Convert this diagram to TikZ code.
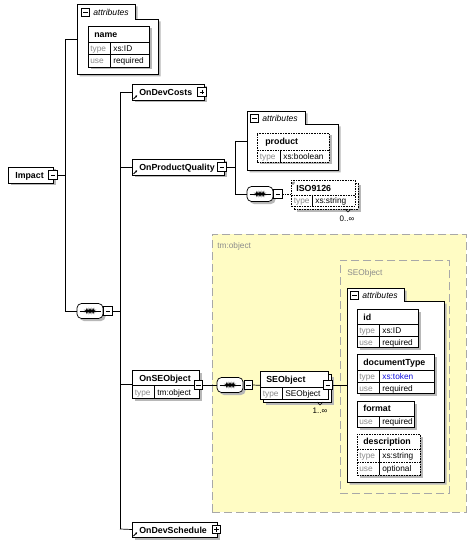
\documentclass[tikz,border=0pt]{standalone}
\usepackage{fontspec}
\setmainfont{Liberation Sans}
\usetikzlibrary{shadows,arrows.meta}
\definecolor{yel}{HTML}{FFFCC4}
\definecolor{dgray}{HTML}{A8A8A8}
\definecolor{lbl}{HTML}{8C8C8C}
\definecolor{tok}{HTML}{1010E0}
\begin{document}
\begin{tikzpicture}[x=1pt,y=-1pt,line width=0.7pt,
  shd/.style={drop shadow={shadow xshift=2.5pt,shadow yshift=-2.5pt,fill=black!28,opacity=1}},
  box/.style={draw,fill=white,rectangle,anchor=north west,inner sep=0,outer sep=0,shd},
  dbox/.style={box,dash pattern=on 1.6pt off 1pt},
  nm/.style={inner sep=0,anchor=base west,font=\fontsize{8.8}{10}\selectfont\bfseries},
  lab/.style={inner sep=0,anchor=base west,font=\fontsize{8.3}{10}\selectfont,text=lbl},
  val/.style={inner sep=0,anchor=base west,font=\fontsize{8.3}{10}\selectfont},
  att/.style={inner sep=0,anchor=base west,font=\fontsize{8.6}{10}\selectfont\itshape},
  pm/.style={draw,fill=white,minimum size=8.5pt,inner sep=0,outer sep=0},
  minus/.style={pm,path picture={\draw[black,line width=0.8pt] ([xshift=1.8pt]path picture bounding box.west) -- ([xshift=-1.8pt]path picture bounding box.east);}},
  plus/.style={pm,path picture={\draw[black,line width=0.8pt] ([xshift=1.8pt]path picture bounding box.west) -- ([xshift=-1.8pt]path picture bounding box.east);\draw[black,line width=0.8pt] ([yshift=-1.8pt]path picture bounding box.north) -- ([yshift=1.8pt]path picture bounding box.south);}},
  seq/.style={draw,fill=white,rounded corners=4.5pt,minimum width=26pt,minimum height=15pt,inner sep=0,outer sep=0,shd,
    path picture={\draw[black] ([xshift=2.5pt]path picture bounding box.west) -- ([xshift=-2.5pt]path picture bounding box.east);
      \foreach \dd in {-2.9,0,2.9} \fill[black] ([xshift=\dd pt]path picture bounding box.center) +(-1.1pt,-1.1pt) rectangle +(1.1pt,1.1pt);}},
  refarrow/.style={-{Stealth[length=2.2pt,width=2.2pt]},line width=0.8pt},
  mult/.style={inner sep=0,font=\fontsize{8}{10}\selectfont}
]
\useasboundingbox (0,0) rectangle (474,545);
\fill[white] (0,0) rectangle (474,545);

% ---------- yellow type region ----------
\node[draw=dgray,fill=yel,line width=0.9pt,dash pattern=on 8pt off 4pt,rectangle,anchor=north west,inner sep=0,minimum width=254pt,minimum height=278pt] (tmobj) at (212,234) {};
\node[lab] (tmobjlbl) at (217,248) {tm:object};
\node[draw=dgray,line width=0.9pt,dash pattern=on 8pt off 4pt,rectangle,anchor=north west,inner sep=0,minimum width=109pt,minimum height=233pt] (seobjgrp) at (340,260) {};
\node[lab] (seobjlbl) at (347,275) {SEObject};

% ---------- junction coordinates ----------
\coordinate (j1t) at (65,39);
\coordinate (j1b) at (65,311);
\coordinate (j2t) at (120,92);
\coordinate (j2b) at (120,529);
\coordinate (j3t) at (235,141);
\coordinate (j3b) at (235,194);
\coordinate (att1w) at (77,39);
\coordinate (att2w) at (247,141);
\coordinate (att3w) at (347,385);

% ---------- Impact ----------
\node[box,minimum width=45pt,minimum height=16pt] (impact) at (8,167) {};
\node[nm] (impacttxt) at (15,178.5) {Impact};
\node[minus] (mimpact) at (53,175) {};

% ---------- top attributes ----------
\path[draw,fill=white,shd] (77,4) -- (135,4) -- (135,19) -- (158,19) -- (158,74) -- (77,74) -- cycle;
\node[minus] (matt1) at (85.5,12.5) {};
\node[att] (att1txt) at (93,15.5) {attributes};
\node[box,minimum width=61pt,minimum height=41pt] (name) at (88,26) {};
\draw (88,42) -- (149,42) (88,54) -- (149,54) (110,42) -- (110,67);
\node[nm] (nametxt) at (94,37.5) {name};
\node[lab] at (90,51.5) {type};
\node[val] at (113,51.5) {xs:ID};
\node[lab] at (90,63.5) {use};
\node[val] at (113,63.5) {required};

% ---------- connectors level 1 ----------
\draw (mimpact.east) -- (mimpact.east -| j1t);
\draw (att1w) -- (j1t) -- (j1b);
\node[seq] (seq1) at (90,311) {};
\node[minus] (mseq1) at (108,311) {};
\draw (j1b) -- (seq1.west);
\draw (mseq1.east) -- (mseq1.east -| j2t);
\draw (j2t) -- (j2b);

% ---------- OnDevCosts ----------
\node[box,minimum width=72pt,minimum height=16pt] (devcosts) at (132,84) {};
\node[nm] at (139,95.5) {OnDevCosts};
\node[plus] (pdevcosts) at (202,92) {};
\draw[refarrow] (133.5,99) -- (137.2,95.3);
\draw (j2t) -- (devcosts.west);

% ---------- OnProductQuality ----------
\node[box,minimum width=92pt,minimum height=16pt] (prodq) at (132,159) {};
\node[nm] at (139,170.5) {OnProductQuality};
\node[minus] (mprodq) at (222,167) {};
\draw[refarrow] (133.5,174) -- (137.2,170.3);
\draw (prodq.west -| j2t) -- (prodq.west);
\draw (mprodq.east) -- (mprodq.east -| j3t);
\draw (j3t) -- (j3b);
\draw (j3t) -- (att2w);

% attributes 2
\path[draw,fill=white,shd] (247,111) -- (305,111) -- (305,124) -- (338,124) -- (338,170) -- (247,170) -- cycle;
\node[minus] (matt2) at (254.5,118.5) {};
\node[att] at (262,121.5) {attributes};
\node[dbox,minimum width=72pt,minimum height=29pt] (product) at (257,133) {};
\draw[dash pattern=on 1.6pt off 1pt] (257,150) -- (329,150);
\draw (280,150) -- (280,162);
\node[nm] at (265,144.5) {product};
\node[lab] at (259.5,159.5) {type};
\node[val] at (283,159.5) {xs:boolean};

% sequence 2 and ISO9126
\node[seq] (seq2) at (260,194) {};
\node[minus] (mseq2) at (278,194) {};
\draw (j3b) -- (seq2.west);
\node[dbox,minimum width=64pt,minimum height=26pt] (isoback) at (294,183) {};
\node[draw,fill=white,rectangle,anchor=north west,inner sep=0,dash pattern=on 1.6pt off 1pt,minimum width=64pt,minimum height=26pt] (iso) at (291,180) {};
\draw[dash pattern=on 1.6pt off 1pt] (mseq2.east) -- (iso.west |- mseq2.east);
\draw[dash pattern=on 1.6pt off 1pt] (291,195) -- (355,195);
\draw (312,195) -- (312,206);
\node[inner sep=0,font=\fontsize{5}{5}\selectfont] at (293.5,183.5) {\#};
\node[nm] at (296,191.5) {ISO9126};
\node[lab] at (293.5,204) {type};
\node[val] at (315,204) {xs:string};
\draw[line width=0.6pt] (345,209) -- (348,212) -- (351,209);
\node[mult] (isomult) at (347,218.5) {0..∞};

% ---------- OnSEObject ----------
\node[box,minimum width=67pt,minimum height=28pt] (onse) at (132,370) {};
\draw (132,385) -- (199,385) (154,385) -- (154,398);
\node[nm] at (139,381) {OnSEObject};
\node[lab] at (134.5,395) {type};
\node[val] at (157,395) {tm:object};
\node[minus] (monse) at (198.5,385) {};
\draw (onse.west -| j2t) -- (onse.west);

\node[seq] (seq3) at (230,385) {};
\node[minus] (mseq3) at (248.5,385) {};
\draw (monse.east) -- (seq3.west);
\node[box,minimum width=68pt,minimum height=28pt] (seback) at (263,374) {};
\node[draw,fill=white,rectangle,anchor=north west,inner sep=0,minimum width=68pt,minimum height=28pt] (seobj) at (260,371) {};
\draw (260,387) -- (328,387) (282,387) -- (282,399);
\node[nm] at (266,382.5) {SEObject};
\node[lab] at (262.5,396) {type};
\node[val] at (285,396) {SEObject};
\node[minus] (mseobj) at (328,385) {};
\draw (mseq3.east) -- (seobj.west);
\draw (mseobj.east) -- (att3w);
\draw[line width=0.6pt] (317,402) -- (320,405) -- (323,402);
\node[mult] (semult) at (320,410.5) {1..∞};

% attributes 3
\path[draw,fill=white,shd] (347,288) -- (404,288) -- (404,301) -- (444,301) -- (444,482) -- (347,482) -- cycle;
\node[minus] (matt3) at (354.5,295.5) {};
\node[att] at (362,298.5) {attributes};

\node[box,minimum width=61pt,minimum height=38pt] (id) at (357,309) {};
\draw (357,324) -- (418,324) (357,336) -- (418,336) (379,324) -- (379,347);
\node[nm] at (363,320) {id};
\node[lab] at (359,333) {type};
\node[val] at (382,333) {xs:ID};
\node[lab] at (359,345) {use};
\node[val] at (382,345) {required};

\node[box,minimum width=77pt,minimum height=39pt] (doctype) at (357,354) {};
\draw (357,370) -- (434,370) (357,382) -- (434,382) (379,370) -- (379,393);
\node[nm] at (363,365.5) {documentType};
\node[lab] at (359,379) {type};
\node[val,text=tok] at (382,379) {xs:token};
\node[lab] at (359,391) {use};
\node[val] at (382,391) {required};

\node[box,minimum width=57pt,minimum height=26pt] (format) at (357,401) {};
\draw (357,416) -- (414,416) (379,416) -- (379,427);
\node[nm] at (363,411.5) {format};
\node[lab] at (359,424.5) {use};
\node[val] at (382,424.5) {required};

\node[dbox,minimum width=63pt,minimum height=41pt] (desc) at (357,434) {};
\draw[dash pattern=on 1.6pt off 1pt] (357,449) -- (420,449) (357,462) -- (420,462);
\draw (379,449) -- (379,475);
\node[nm] at (363,444.5) {description};
\node[lab] at (359,458.5) {type};
\node[val] at (382,458.5) {xs:string};
\node[lab] at (359,471.5) {use};
\node[val] at (382,471.5) {optional};

% ---------- OnDevSchedule ----------
\node[box,minimum width=85pt,minimum height=15pt] (devsched) at (132,522) {};
\node[nm] at (139,533) {OnDevSchedule};
\node[plus] (pdevsched) at (216.5,529.5) {};
\draw[refarrow] (133.5,536) -- (137.2,532.3);
\draw (j2b) -- (devsched.west);
\end{tikzpicture}
\end{document}
